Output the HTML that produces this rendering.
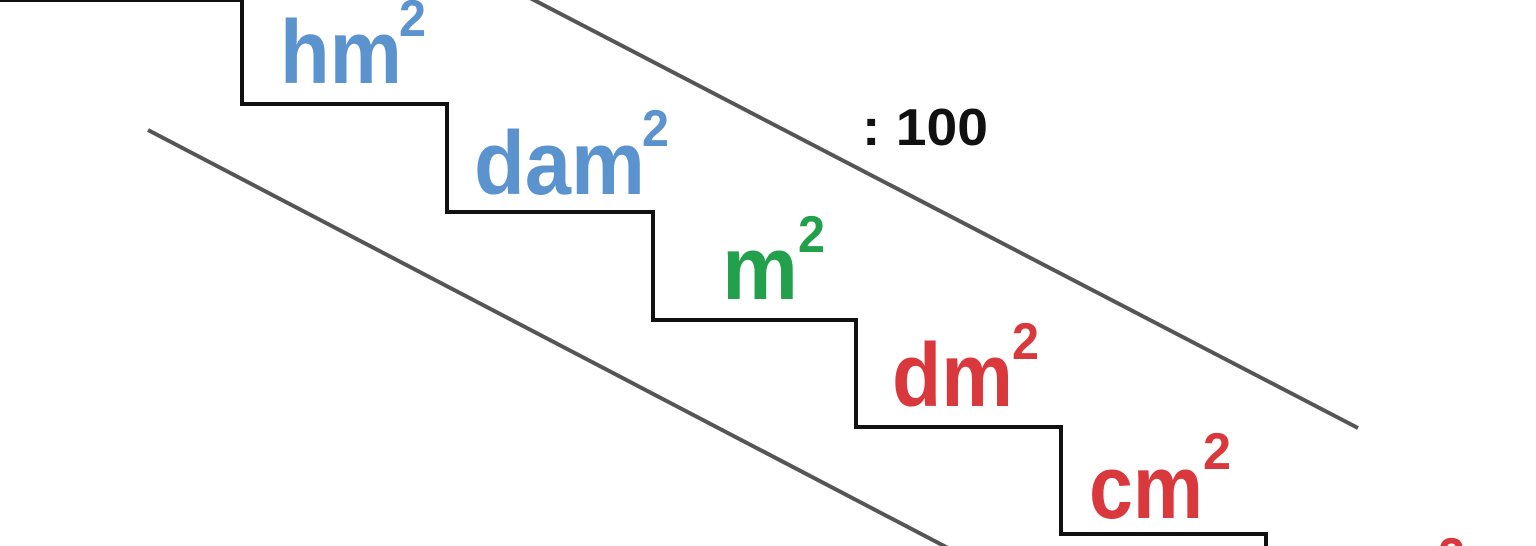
<!DOCTYPE html>
<html><head><meta charset="utf-8"><style>html,body{margin:0;padding:0;background:#fff;overflow:hidden;width:1536px;height:546px;}svg{display:block;}</style></head>
<body>
<svg width="1536" height="546" viewBox="0 0 1536 546" xmlns="http://www.w3.org/2000/svg" overflow="hidden">
<polyline points="0,0 242,0 242,104 447,104 447,212 653,212 653,320 856,320 856,427 1061,427 1061,534 1266,534 1266,560" fill="none" stroke="#111" stroke-width="4"/>
<line x1="530" y1="-2" x2="1358" y2="428" stroke="#555" stroke-width="4"/>
<line x1="148" y1="130" x2="948" y2="548" stroke="#555" stroke-width="4"/>
<g font-family="Liberation Sans, sans-serif" font-weight="bold">
<text x="280" y="83" font-size="90" fill="#5b93cf" textLength="122" lengthAdjust="spacingAndGlyphs">hm</text>
<text x="399" y="36" font-size="52" fill="#5b93cf" textLength="27" lengthAdjust="spacingAndGlyphs">2</text>
<text x="474" y="194" font-size="90" fill="#5b93cf" textLength="171" lengthAdjust="spacingAndGlyphs">dam</text>
<text x="642" y="146" font-size="52" fill="#5b93cf" textLength="27" lengthAdjust="spacingAndGlyphs">2</text>
<text x="722" y="299" font-size="90" fill="#23a04c" textLength="76" lengthAdjust="spacingAndGlyphs">m</text>
<text x="798" y="252" font-size="52" fill="#23a04c" textLength="27" lengthAdjust="spacingAndGlyphs">2</text>
<text x="892" y="406" font-size="90" fill="#d9383c" textLength="121" lengthAdjust="spacingAndGlyphs">dm</text>
<text x="1012" y="359" font-size="52" fill="#d9383c" textLength="27" lengthAdjust="spacingAndGlyphs">2</text>
<text x="1089" y="518" font-size="90" fill="#d9383c" textLength="114" lengthAdjust="spacingAndGlyphs">cm</text>
<text x="1203" y="469" font-size="52" fill="#d9383c" textLength="28" lengthAdjust="spacingAndGlyphs">2</text>
<text x="1438" y="574" font-size="52" fill="#d9383c" textLength="27" lengthAdjust="spacingAndGlyphs">2</text>
<text x="862" y="145" font-size="52" fill="#111" textLength="126" lengthAdjust="spacingAndGlyphs">: 100</text>
</g>
</svg>
</body></html>
